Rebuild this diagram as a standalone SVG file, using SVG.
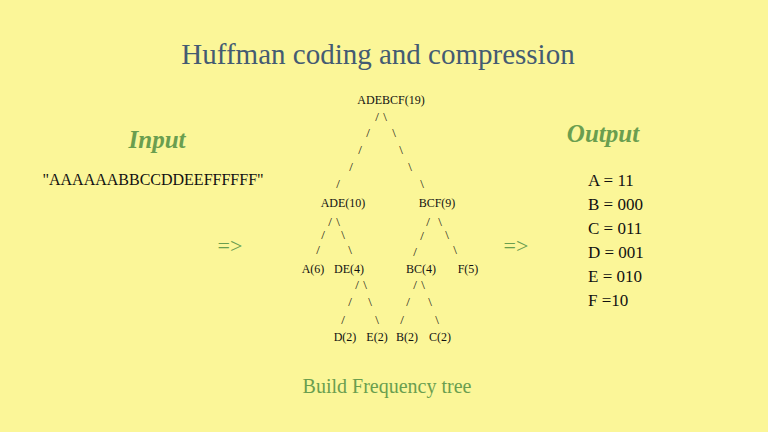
<svg xmlns="http://www.w3.org/2000/svg" width="768" height="432" viewBox="0 0 768 432">
<style>
text{font-family:"Liberation Serif",serif}
.t{font-size:12px;fill:#111;text-anchor:middle}
.s{font-size:13px;fill:#111;text-anchor:middle}
.g{fill:#6a9e4f}
.o{font-size:17px;fill:#111}
</style>
<rect width="768" height="432" fill="#fbf698"/>
<text x="378" y="64" font-size="29" fill="#445b72" text-anchor="middle">Huffman coding and compression</text>
<text x="157" y="148" font-size="25" font-style="italic" font-weight="bold" class="g" text-anchor="middle">Input</text>
<text x="153" y="185" font-size="16" fill="#111" text-anchor="middle">"AAAAAABBCCDDEEFFFFFF"</text>
<text x="603" y="142" font-size="25" font-style="italic" font-weight="bold" class="g" text-anchor="middle">Output</text>
<g id="output">
<text class="o" x="588" y="186">A = 11</text>
<text class="o" x="588" y="210">B = 000</text>
<text class="o" x="588" y="234">C = 011</text>
<text class="o" x="588" y="258">D = 001</text>
<text class="o" x="588" y="282">E = 010</text>
<text class="o" x="588" y="306">F =10</text>
</g>
<text x="230" y="253" font-size="22" class="g" text-anchor="middle">=&gt;</text>
<text x="516" y="253" font-size="22" class="g" text-anchor="middle">=&gt;</text>
<text x="387" y="393" font-size="20" class="g" text-anchor="middle">Build Frequency tree</text>
<g id="nodes">
<g id="n-root"><text class="t" x="391" y="104">ADEBCF(19)</text></g>
<g id="n-ade"><text class="t" x="343" y="207">ADE(10)</text></g>
<g id="n-bcf"><text class="t" x="437" y="207">BCF(9)</text></g>
<g id="n-a"><text class="t" x="313" y="273">A(6)</text></g>
<g id="n-de"><text class="t" x="349" y="273">DE(4)</text></g>
<g id="n-bc"><text class="t" x="421" y="273">BC(4)</text></g>
<g id="n-f"><text class="t" x="468" y="273">F(5)</text></g>
<g id="n-d"><text class="t" x="345" y="341">D(2)</text></g>
<g id="n-e"><text class="t" x="377" y="341">E(2)</text></g>
<g id="n-b"><text class="t" x="407" y="341">B(2)</text></g>
<g id="n-c"><text class="t" x="440" y="341">C(2)</text></g>
</g>
<g id="connectors">
<text class="s" x="377" y="121">/</text><text class="s" x="385" y="121">\</text>
<text class="s" x="368" y="137">/</text><text class="s" x="394" y="137">\</text>
<text class="s" x="360" y="154">/</text><text class="s" x="401" y="154">\</text>
<text class="s" x="351" y="171">/</text><text class="s" x="410" y="171">\</text>
<text class="s" x="338" y="188">/</text><text class="s" x="422" y="188">\</text>
<text class="s" x="330" y="226">/</text><text class="s" x="338" y="226">\</text>
<text class="s" x="323" y="239">/</text><text class="s" x="343" y="239">\</text>
<text class="s" x="318" y="254">/</text><text class="s" x="350" y="254">\</text>
<text class="s" x="428" y="226">/</text><text class="s" x="440" y="226">\</text>
<text class="s" x="422" y="240">/</text><text class="s" x="447" y="239">\</text>
<text class="s" x="415" y="256">/</text><text class="s" x="455" y="254">\</text>
<text class="s" x="357" y="289">/</text><text class="s" x="365" y="289">\</text>
<text class="s" x="350" y="306">/</text><text class="s" x="370" y="306">\</text>
<text class="s" x="343" y="324">/</text><text class="s" x="377" y="324">\</text>
<text class="s" x="415" y="289">/</text><text class="s" x="423" y="289">\</text>
<text class="s" x="408" y="306">/</text><text class="s" x="430" y="306">\</text>
<text class="s" x="402" y="324">/</text><text class="s" x="437" y="324">\</text>
</g>
</svg>
